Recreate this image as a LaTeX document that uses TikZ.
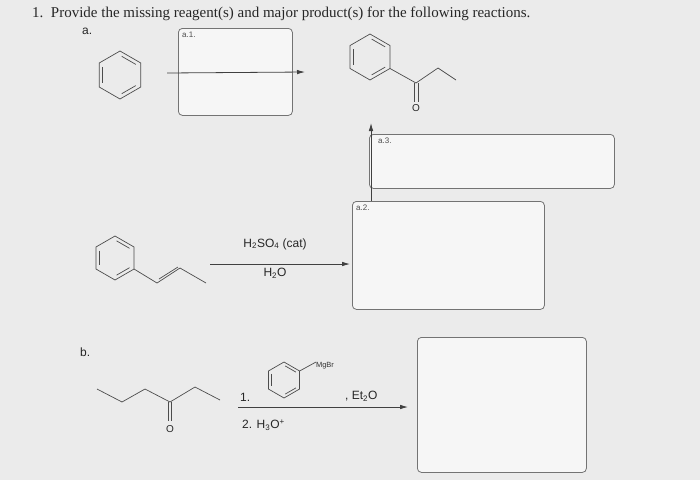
\documentclass[tikz,border=0pt]{standalone}
\usepackage{fontspec}
\setmainfont{Liberation Sans}
\newfontfamily\titlefont{Liberation Serif}
\usetikzlibrary{arrows.meta}
\tikzset{
 bond/.style={draw=black!70, line width=0.7pt},
 ansbox/.style={draw=black!55, line width=0.8pt, rounded corners=4pt, fill=gray!7},
 lbl/.style={font=\fontsize{8}{9}\selectfont, text=black!70, inner sep=1pt, anchor=north west},
 rxarrow/.style={draw=black!75, line width=0.8pt, -{Latex[length=8pt,width=4.5pt]}},
 txt/.style={font=\fontsize{12}{14}\selectfont, text=black!85, inner sep=0pt}
}
\newcommand\benzring[3]{% cx, cy, r
 \draw[bond] (#1+0,#2-#3) -- (#1+0.866*#3,#2-0.5*#3) -- (#1+0.866*#3,#2+0.5*#3) -- (#1+0,#2+#3) -- (#1-0.866*#3,#2+0.5*#3) -- (#1-0.866*#3,#2-0.5*#3) -- cycle;
 \draw[bond] (#1+0.07*#3,#2-0.78*#3) -- (#1+0.66*#3,#2-0.44*#3);
 \draw[bond] (#1+0.66*#3,#2+0.44*#3) -- (#1+0.07*#3,#2+0.78*#3);
 \draw[bond] (#1-0.73*#3,#2-0.34*#3) -- (#1-0.73*#3,#2+0.34*#3);
}
\begin{document}
\begin{tikzpicture}[x=1pt,y=-1pt]
\fill[gray!16] (0,0) rectangle (700,480);
\useasboundingbox (0,0) rectangle (700,480);
\node[anchor=west, font=\titlefont\fontsize{15}{17}\selectfont, text=black!85, inner sep=0pt] (title) at (32,14) {1.\ \ Provide the missing reagent(s) and major product(s) for the following reactions.};
\node[txt, anchor=west] (la) at (82,31) {a.};
% a.1
\benzring{120}{75}{24}
\node[ansbox, minimum width=114pt, minimum height=87pt, anchor=north west] (a1) at (178,28) {};
\node[lbl] (a1l) at ([shift={(3,3)}]a1.north west) {a.1.};
\coordinate (a1s) at (167,73);
\coordinate (a1e) at (305,72);
\draw[rxarrow] (a1s) -- (a1e);
% propiophenone
\benzring{370}{57}{23}
\draw[bond] (390,68.5) -- (416,83) -- (438,68) -- (456,80);
\draw[bond] (414.5,83) -- (414.5,102);
\draw[bond] (418,83) -- (418,102);
\node[txt, font=\fontsize{10}{12}\selectfont] (o1) at (416,108) {O};
% a.3
\node[ansbox, minimum width=245pt, minimum height=54pt, anchor=north west] (a3) at (369,134) {};
\node[lbl] (a3l) at ([shift={(8,3)}]a3.north west) {a.3.};
% a.2
\node[ansbox, minimum width=192pt, minimum height=108pt, anchor=north west] (a2) at (352,201) {};
\node[lbl] (a2l) at ([shift={(3,3)}]a2.north west) {a.2.};
\coordinate (upS) at (371,201);
\coordinate (upE) at (371,123);
\draw[rxarrow] (upS) -- (upE);
% propenylbenzene
\benzring{115}{258}{22}
\draw[bond] (134,269) -- (157,283) -- (180,268) -- (206,283);
\draw[bond] (159,279) -- (178,267);
\coordinate (a2s) at (210,264);
\coordinate (a2e) at (350,264);
\draw[rxarrow] (a2s) -- (a2e);
\node[txt] (r1) at (275,244) {H\textsubscript{2}SO\textsubscript{4} (cat)};
\node[txt] (r2) at (275,273) {H\textsubscript{2}O};
% b
\node[txt, anchor=west] (lb) at (80,352) {b.};
\draw[bond] (97,389) -- (122,402) -- (145,389) -- (170,402) -- (195,387) -- (220,400);
\draw[bond] (168.3,402) -- (168.3,421);
\draw[bond] (171.7,402) -- (171.7,421);
\node[txt, font=\fontsize{10}{12}\selectfont] (o2) at (170,429) {O};
\benzring{284}{380}{18}
\draw[bond] (299.6,371) -- (316,362);
\node[font=\fontsize{7.5}{9}\selectfont, text=black!80, inner sep=0pt] (mg) at (325,366) {MgBr};
\node[txt, anchor=west] (s1) at (240,397) {1.};
\node[txt, anchor=west] (et) at (345,396) {, Et\textsubscript{2}O};
\coordinate (bs) at (238,407);
\coordinate (be) at (408,407);
\draw[rxarrow] (bs) -- (be);
\node[txt, anchor=west] (s2) at (242,425) {2. H\textsubscript{3}O\textsuperscript{+}};
\node[ansbox, minimum width=169pt, minimum height=135pt, anchor=north west] (bb) at (417,337) {};
\end{tikzpicture}
\end{document}
